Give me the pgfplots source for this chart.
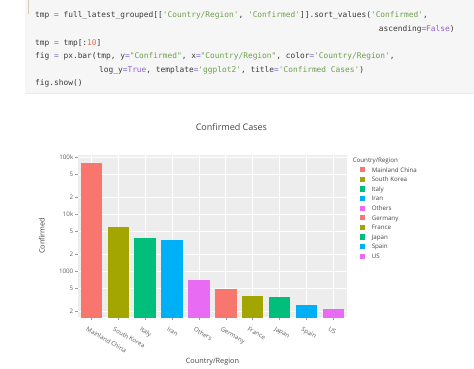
\documentclass[border=0pt]{standalone}
\usepackage{pgfplots}
\pgfplotsset{compat=1.18}
\usepackage{fontspec}
\setmainfont{Open Sans}
\newfontfamily\codefont{DejaVu Sans Mono}
\definecolor{c1}{HTML}{F8766D}
\definecolor{c2}{HTML}{A3A500}
\definecolor{c3}{HTML}{00BF7D}
\definecolor{c4}{HTML}{00B0F6}
\definecolor{c5}{HTML}{E76BF3}
\definecolor{plotbg}{RGB}{237,237,237}
\definecolor{codebg}{HTML}{F6F6F6}
\definecolor{codefg}{HTML}{3A3A3A}
\definecolor{strc}{HTML}{6E9F4C}
\definecolor{kwc}{HTML}{8E62CC}
\definecolor{numc}{HTML}{E5704A}
\definecolor{eqc}{HTML}{7A68C8}
\definecolor{txt}{HTML}{444444}
\definecolor{tickc}{HTML}{5E5E5E}
\definecolor{barline}{HTML}{D8CBB3}
\newcommand\q{\char"27\relax}
\newcommand\dq{\char"22\relax}
\newcommand\s[1]{\textcolor{strc}{#1}}
\newcommand\e{\textcolor{eqc}{=}}
\begin{document}
\begin{tikzpicture}[x=1pt,y=1pt]
\fill[white] (0,0) rectangle (474,368);
\fill[codebg] (25,275.5) rectangle (474,368);
\draw[black!8, line width=0.4pt] (25,275.5) -- (474,275.5);
\draw[barline, line width=0.8pt] (28,368) -- (28,354);
\tikzset{codeline/.style={anchor=base west, inner sep=0pt, text=codefg, font=\codefont\fontsize{7.86}{9}\selectfont}}
\node[codeline] at (35,351.2) {tmp \e{} full\_latest\_grouped[[\s{\q Country/Region\q}, \s{\q Confirmed\q}]].sort\_values(\s{\q Confirmed\q},};
\node[codeline, anchor=base east] at (455,336.9) {ascending\e\textcolor{kwc}{False})};
\node[codeline] at (35,322.9) {tmp \e{} tmp[:\textcolor{numc}{10}]};
\node[codeline] at (35,310.2) {fig \e{} px.bar(tmp, y\e\s{\dq Confirmed\dq}, x\e\s{\dq Country/Region\dq}, color\e\s{\q Country/Region\q},};
\node[codeline] at (99,295.9) {log\_y\e\textcolor{kwc}{True}, template\e\s{\q ggplot2\q}, title\e\s{\q Confirmed Cases\q})};
\node[codeline] at (35,282.5) {fig.show()};
% titles
\node[text=txt, font=\fontsize{9}{10}\selectfont] at (231.5,241) {Confirmed Cases};
\node[text=txt, font=\fontsize{7.3}{8}\selectfont] at (212.5,7) {Country/Region};
\node[text=txt, font=\fontsize{7.3}{8}\selectfont, rotate=90] at (42,132.5) {Confirmed};
\node[text=txt, font=\fontsize{6.2}{7}\selectfont, anchor=west, inner sep=0pt] at (352.7,207) {Country/Region};
\begin{axis}[
  at={(78pt,51pt)}, anchor=south west,
  width=269pt, height=162pt, scale only axis,
  xmin=-0.5, xmax=9.5,
  ymode=log, ymin=157, ymax=108400,
  axis background/.style={fill=plotbg},
  axis line style={draw=none},
  xmajorgrids, ymajorgrids,
  major grid style={white, line width=0.8pt},
  xtick={0,...,9},
  xticklabels={Mainland China, South Korea, Italy, Iran, Others, Germany, France, Japan, Spain, US},
  ytick={200,500,1000,2000,5000,10000,20000,50000,100000},
  yticklabels={2,5,1000,2,5,10k,2,5,100k},
  minor ytick={}, yminorticks=false,
  tick align=outside, tick pos=left,
  major tick length=3pt,
  tick style={black!40, line width=0.5pt},
  /pgf/number format/assume math mode=true,
  ticklabel style={font=\fontsize{6.2}{7}\selectfont, text=tickc, inner sep=0pt},
  xticklabel style={xshift=-3.4pt, yshift=-6pt, rotate=-30, anchor=north west},
  yticklabel style={anchor=east, xshift=-1.5pt},
  legend style={at={(1.048,0.935)}, anchor=north west, draw=none, fill=none,
    inner sep=0pt, outer sep=0pt, row sep=0pt,
    font=\fontsize{6.2}{7}\selectfont, text=txt,
    nodes={inner sep=0pt, text height=6.2pt, text depth=3.4pt, anchor=base west},
    /tikz/every odd column/.style={column sep=6.8pt}},
  legend cell align=left,
  legend image code/.code={\fill[#1,draw=none] (0pt,-0.3pt) rectangle (5.2pt,4.9pt);},
]
\addplot[ybar, bar width=21.5pt, bar shift=0pt, fill=c1, draw=none] coordinates {(0,80409)};
\addlegendentry{Mainland China}
\addplot[ybar, bar width=21.5pt, bar shift=0pt, fill=c2, draw=none] coordinates {(1,6088)};
\addlegendentry{South Korea}
\addplot[ybar, bar width=21.5pt, bar shift=0pt, fill=c3, draw=none] coordinates {(2,3858)};
\addlegendentry{Italy}
\addplot[ybar, bar width=21.5pt, bar shift=0pt, fill=c4, draw=none] coordinates {(3,3513)};
\addlegendentry{Iran}
\addplot[ybar, bar width=21.5pt, bar shift=0pt, fill=c5, draw=none] coordinates {(4,696)};
\addlegendentry{Others}
\addplot[ybar, bar width=21.5pt, bar shift=0pt, fill=c1, draw=none] coordinates {(5,482)};
\addlegendentry{Germany}
\addplot[ybar, bar width=21.5pt, bar shift=0pt, fill=c2, draw=none] coordinates {(6,377)};
\addlegendentry{France}
\addplot[ybar, bar width=21.5pt, bar shift=0pt, fill=c3, draw=none] coordinates {(7,360)};
\addlegendentry{Japan}
\addplot[ybar, bar width=21.5pt, bar shift=0pt, fill=c4, draw=none] coordinates {(8,259)};
\addlegendentry{Spain}
\addplot[ybar, bar width=21.5pt, bar shift=0pt, fill=c5, draw=none] coordinates {(9,221)};
\addlegendentry{US}
\end{axis}
\end{tikzpicture}
\end{document}
